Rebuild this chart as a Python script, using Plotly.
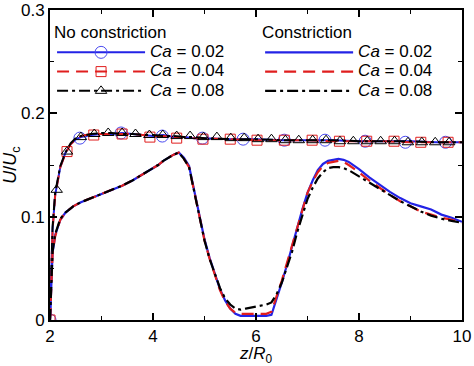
import plotly.graph_objects as go

# ---------------- data ----------------
# No constriction (upper curves)
z_nc = [2.0, 2.02, 2.05, 2.1, 2.15, 2.2, 2.3, 2.4, 2.5, 2.6, 2.8, 3.0, 3.2, 3.4, 3.6,
        3.8, 4.0, 4.2, 4.4, 4.6, 4.8, 5.0, 5.5, 6.0, 6.5, 7.0, 7.5, 8.0, 8.5, 9.0, 9.5, 10.0]
u_nc_02 = [0.0, 0.045, 0.088, 0.121, 0.136, 0.148, 0.162, 0.170, 0.175, 0.177, 0.179, 0.180,
           0.180, 0.181, 0.180, 0.179, 0.178, 0.179, 0.177, 0.177, 0.176, 0.176, 0.175, 0.175,
           0.174, 0.174, 0.174, 0.173, 0.173, 0.173, 0.172, 0.172]
u_nc_04 = [0.0, 0.044, 0.087, 0.120, 0.136, 0.148, 0.161, 0.170, 0.175, 0.178, 0.180, 0.180,
           0.180, 0.180, 0.180, 0.179, 0.178, 0.178, 0.177, 0.177, 0.176, 0.176, 0.175, 0.174,
           0.174, 0.174, 0.173, 0.173, 0.173, 0.172, 0.172, 0.172]
u_nc_08 = [0.0, 0.046, 0.090, 0.123, 0.138, 0.149, 0.162, 0.171, 0.176, 0.178, 0.180, 0.181,
           0.181, 0.180, 0.180, 0.179, 0.179, 0.178, 0.178, 0.177, 0.177, 0.176, 0.175, 0.175,
           0.174, 0.174, 0.174, 0.173, 0.173, 0.173, 0.172, 0.172]

# marker samples of the no-constriction curves
zm_02 = [2.0, 2.58, 3.38, 4.18, 4.96, 5.75, 6.55, 7.34, 8.12, 8.9, 9.68]
um_02 = [0.0, 0.176, 0.181, 0.178, 0.176, 0.175, 0.174, 0.174, 0.173, 0.172, 0.172]
zm_04 = [2.0, 2.33, 2.85, 3.4, 3.94, 4.46, 4.97, 5.5, 6.02, 6.55, 7.09, 7.62, 8.15, 8.68, 9.2, 9.73]
um_04 = [0.0, 0.163, 0.179, 0.180, 0.177, 0.176, 0.175, 0.175, 0.174, 0.174, 0.174, 0.173,
         0.173, 0.173, 0.172, 0.172]
zm_08 = [2.13, 2.33, 2.6, 2.86, 3.13, 3.4, 3.66, 3.93, 4.19, 4.46, 4.72, 4.98, 5.24, 5.51,
         5.77, 6.04, 6.3, 6.57, 6.83, 7.1, 7.36, 7.63, 7.89, 8.16, 8.42, 8.69, 8.95, 9.22,
         9.48, 9.75]
um_08 = [0.126, 0.163, 0.177, 0.180, 0.181, 0.181, 0.180, 0.179, 0.179, 0.178, 0.178, 0.177,
         0.177, 0.176, 0.176, 0.175, 0.175, 0.174, 0.174, 0.174, 0.174, 0.173, 0.173, 0.173,
         0.173, 0.173, 0.172, 0.172, 0.172, 0.172]

# Constriction (lower curves)
z_c = [2.0, 2.02, 2.05, 2.1, 2.15, 2.2, 2.3, 2.45, 2.6, 2.8, 3.0, 3.2, 3.4, 3.6, 3.8, 4.0,
       4.1, 4.2, 4.3, 4.4, 4.5, 4.6, 4.7, 4.8, 4.9, 5.0, 5.1, 5.2, 5.3, 5.4, 5.5, 5.6, 5.7,
       5.8, 6.0, 6.2, 6.3, 6.4, 6.5, 6.6, 6.7, 6.8, 6.9, 7.0, 7.1, 7.2, 7.3, 7.4, 7.5, 7.6,
       7.7, 7.8, 8.0, 8.2, 8.4, 8.6, 8.8, 9.0, 9.2, 9.4, 9.6, 9.8, 10.0]
u_c_02 = [0.0, 0.035, 0.065, 0.082, 0.090, 0.097, 0.104, 0.110, 0.114, 0.118, 0.122, 0.126,
          0.130, 0.135, 0.141, 0.147, 0.150, 0.154, 0.157, 0.160, 0.162, 0.157, 0.149, 0.126,
          0.100, 0.078, 0.060, 0.044, 0.030, 0.019, 0.011, 0.006, 0.004, 0.004, 0.004, 0.004,
          0.005, 0.020, 0.036, 0.053, 0.070, 0.089, 0.107, 0.123, 0.135, 0.145, 0.151, 0.154,
          0.155, 0.156, 0.155, 0.153, 0.146, 0.138, 0.131, 0.124, 0.118, 0.113, 0.110, 0.107,
          0.102, 0.099, 0.095]
u_c_04 = [0.0, 0.034, 0.064, 0.081, 0.090, 0.097, 0.104, 0.110, 0.114, 0.118, 0.122, 0.126,
          0.130, 0.135, 0.141, 0.147, 0.150, 0.154, 0.157, 0.160, 0.162, 0.156, 0.148, 0.125,
          0.099, 0.077, 0.059, 0.043, 0.029, 0.018, 0.011, 0.007, 0.006, 0.006, 0.006, 0.006,
          0.008, 0.022, 0.038, 0.055, 0.072, 0.091, 0.108, 0.123, 0.134, 0.143, 0.149, 0.152,
          0.153, 0.154, 0.153, 0.150, 0.143, 0.135, 0.128, 0.121, 0.115, 0.110, 0.105, 0.102,
          0.099, 0.097, 0.094]
u_c_08 = [0.0, 0.036, 0.066, 0.083, 0.091, 0.098, 0.104, 0.110, 0.114, 0.118, 0.122, 0.126,
          0.130, 0.135, 0.141, 0.147, 0.150, 0.154, 0.157, 0.160, 0.162, 0.156, 0.148, 0.125,
          0.099, 0.077, 0.059, 0.044, 0.031, 0.021, 0.015, 0.011, 0.010, 0.011, 0.013, 0.015,
          0.017, 0.025, 0.036, 0.050, 0.066, 0.085, 0.102, 0.117, 0.128, 0.137, 0.143, 0.147,
          0.148, 0.148, 0.147, 0.145, 0.139, 0.133, 0.127, 0.121, 0.115, 0.110, 0.105, 0.101,
          0.098, 0.096, 0.094]

ca_values = ["0.02", "0.04", "0.08"]
legend_titles = ["No constriction", "Constriction"]

# ---------------- styles ----------------
BLUE = "#2323e6"
RED = "#e01e1e"
BLACK = "#000000"
FONT = "Arial, 'Liberation Sans', sans-serif"
colors = [BLUE, RED, BLACK]
dashes = ["solid", "12px,7px", "11px,4px,3px,4px"]
symbols = ["circle-open", "square-open", "triangle-up-open"]
msizes = [12, 10, 10]
mcolors = ["#4a4af0", RED, BLACK]


def big(t):
    # legend text drawn at 17px while the legend row spacing follows a smaller base size
    return '<span style="font-size:17px">' + t + "</span>"


labels = [big("<i>Ca</i> = " + v) for v in ca_values]

fig = go.Figure()

nc_vals = [u_nc_02, u_nc_04, u_nc_08]
nc_marks = [(zm_02, um_02), (zm_04, um_04), (zm_08, um_08)]
c_vals = [u_c_02, u_c_04, u_c_08]

for i in range(3):
    mk = dict(symbol=symbols[i], size=msizes[i], color=mcolors[i],
              line=dict(color=mcolors[i], width=1))
    fig.add_trace(go.Scatter(x=z_nc, y=nc_vals[i], mode="lines", showlegend=False,
                             line=dict(color=colors[i], width=2, dash=dashes[i]),
                             hoverinfo="skip"))
    fig.add_trace(go.Scatter(x=nc_marks[i][0], y=nc_marks[i][1], mode="markers",
                             showlegend=False, marker=mk))
    # legend entry (no constriction)
    fig.add_trace(go.Scatter(x=[None], y=[None], mode="lines+markers", name=labels[i],
                             legend="legend",
                             line=dict(color=colors[i], width=2, dash=dashes[i]),
                             marker=mk))

for i in range(3):
    fig.add_trace(go.Scatter(x=z_c, y=c_vals[i], mode="lines", name=labels[i],
                             legend="legend2",
                             line=dict(color=colors[i], width=2.2, dash=dashes[i])))

axis_common = dict(
    showline=True, linecolor="black", linewidth=2, mirror="ticks",
    ticks="inside", ticklen=7, tickwidth=2, tickcolor="black",
    showgrid=False, zeroline=False,
    tickfont=dict(family=FONT, size=17, color="black"),
)

fig.update_xaxes(range=[2, 10], tickvals=[2, 4, 6, 8, 10], ticktext=["2", "4", "6", "8", "10"],
                 minor=dict(ticks="inside", ticklen=4, tickwidth=1, tickcolor="black", dtick=1),
                 title=dict(text="<i>z</i>/<i>R</i><sub>0</sub>",
                            font=dict(family=FONT, size=17, color="black"), standoff=4),
                 **axis_common)
fig.update_yaxes(range=[0, 0.3], tickvals=[0, 0.1, 0.2, 0.3], ticktext=["0", "0.1", "0.2", "0.3"],
                 minor=dict(ticks="inside", ticklen=4, tickwidth=1, tickcolor="black", dtick=0.05),
                 title=dict(text="<i>U</i>/<i>U</i><sub>c</sub>",
                            font=dict(family=FONT, size=18, color="black"), standoff=7),
                 **axis_common)

legend_common = dict(
    bgcolor="rgba(0,0,0,0)", borderwidth=0, itemwidth=88,
    font=dict(family=FONT, size=12.5, color="black"),
    xanchor="left", yanchor="top", tracegroupgap=0,
)
fig.update_layout(
    width=474, height=366,
    margin=dict(l=50, r=12, t=10, b=46, autoexpand=False),
    paper_bgcolor="white", plot_bgcolor="white",
    font=dict(family=FONT, size=16, color="black"),
    legend=dict(x=0.005, y=0.963, title=dict(text=big(legend_titles[0]),
                font=dict(family=FONT, size=12.5, color="black"), side="top"), **legend_common),
    legend2=dict(x=0.51, y=0.963, title=dict(text=big(legend_titles[1]),
                 font=dict(family=FONT, size=12.5, color="black"), side="top"), **legend_common),
)

fig.write_html("out.html", config={"displayModeBar": False},
               post_script="document.body.style.margin='0px';document.body.style.overflow='hidden';")
